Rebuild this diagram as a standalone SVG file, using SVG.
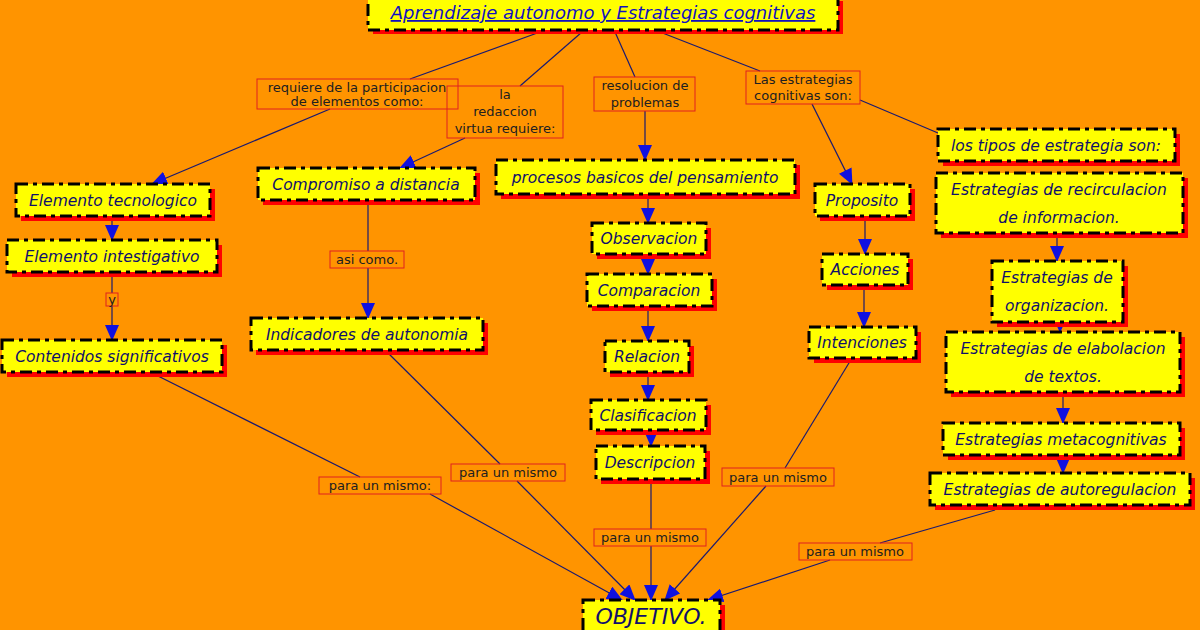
<svg xmlns="http://www.w3.org/2000/svg" width="1200" height="630" viewBox="0 0 1200 630">
<style>
.n rect.s{fill:#ff0000}
.n rect.b{fill:#ffff00;stroke:#000;stroke-width:3;stroke-dasharray:12 5 4 5}
.n text{font-family:"DejaVu Sans",sans-serif;font-style:italic;font-size:15.5px;fill:#10106a;text-anchor:middle}
.l rect{fill:none;stroke:#e02020;stroke-width:1}
.l text{font-family:"DejaVu Sans",sans-serif;font-size:13px;fill:#202020;text-anchor:middle}
#c line{stroke:#1a1a70;stroke-width:1.2}
#c line.a{marker-end:url(#ar)}
</style>
<defs>
<marker id="ar" markerUnits="userSpaceOnUse" markerWidth="16" markerHeight="14" refX="15" refY="7" orient="auto">
<path d="M0,0 L16,7 L0,14 Z" fill="#1010e0"/>
</marker>
</defs>
<rect width="1200" height="630" fill="#ff9400"/>
<g id="c">
<line x1="540" y1="32" x2="410" y2="79"/>
<line class="a" x1="330" y1="109" x2="152" y2="184"/>
<line x1="582" y1="32" x2="520" y2="86"/>
<line class="a" x1="465" y1="138" x2="400" y2="168"/>
<line x1="615" y1="32" x2="635" y2="77"/>
<line class="a" x1="645" y1="111" x2="645" y2="160"/>
<line x1="660" y1="32" x2="760" y2="71"/>
<line x1="860" y1="100" x2="938" y2="133"/>
<line class="a" x1="812" y1="104" x2="852" y2="184"/>
<line class="a" x1="112" y1="216" x2="112" y2="240"/>
<line x1="112" y1="272" x2="112" y2="293"/>
<line class="a" x1="112" y1="306" x2="112" y2="340"/>
<line x1="368" y1="200" x2="368" y2="251"/>
<line class="a" x1="368" y1="268" x2="368" y2="318"/>
<line class="a" x1="648" y1="194" x2="648" y2="223"/>
<line class="a" x1="648" y1="254" x2="648" y2="274"/>
<line class="a" x1="648" y1="306" x2="648" y2="341"/>
<line class="a" x1="648" y1="372" x2="648" y2="400"/>
<line class="a" x1="651" y1="430" x2="651" y2="446"/>
<line class="a" x1="865" y1="216" x2="865" y2="254"/>
<line class="a" x1="864" y1="285" x2="864" y2="327"/>
<line class="a" x1="1057" y1="233" x2="1057" y2="261"/>
<line class="a" x1="1060" y1="322" x2="1060" y2="332"/>
<line class="a" x1="1063" y1="392" x2="1063" y2="423"/>
<line class="a" x1="1063" y1="455" x2="1063" y2="473"/>
<line x1="150" y1="372" x2="360" y2="477"/>
<line class="a" x1="430" y1="494" x2="622" y2="600"/>
<line x1="385" y1="350" x2="500" y2="464"/>
<line class="a" x1="517" y1="481" x2="635" y2="600"/>
<line x1="651" y1="479" x2="651" y2="529"/>
<line class="a" x1="651" y1="546" x2="651" y2="600"/>
<line x1="852" y1="358" x2="785" y2="468"/>
<line class="a" x1="766" y1="486" x2="665" y2="600"/>
<line x1="995" y1="510" x2="880" y2="543"/>
<line class="a" x1="830" y1="560" x2="708" y2="600"/>
</g>
<g class="l" id="l1"><rect x="257" y="79" width="201" height="30"/><text x="357" y="92">requiere de la participacion</text><text x="357" y="106">de elementos como:</text></g>
<g class="l" id="l2"><rect x="447" y="86" width="116" height="52"/><text x="505" y="99">la</text><text x="505" y="116">redaccion</text><text x="505" y="133">virtua requiere:</text></g>
<g class="l" id="l3"><rect x="594" y="77" width="101" height="34"/><text x="645" y="90">resolucion de</text><text x="645" y="107">problemas</text></g>
<g class="l" id="l4"><rect x="746" y="71" width="114" height="33"/><text x="803" y="84">Las estrategias</text><text x="803" y="100">cognitivas son:</text></g>
<g class="l" id="l5"><rect x="330" y="251" width="74" height="17"/><text x="367" y="264">asi como.</text></g>
<g class="l" id="l6"><rect x="106" y="293" width="12" height="13"/><text x="112" y="304">y</text></g>
<g class="l" id="l7"><rect x="319" y="477" width="122" height="17"/><text x="380" y="490">para un mismo:</text></g>
<g class="l" id="l8"><rect x="451" y="464" width="114" height="17"/><text x="508" y="477">para un mismo</text></g>
<g class="l" id="l9"><rect x="594" y="529" width="112" height="17"/><text x="650" y="542">para un mismo</text></g>
<g class="l" id="l10"><rect x="722" y="468" width="112" height="18"/><text x="778" y="482">para un mismo</text></g>
<g class="l" id="l11"><rect x="799" y="543" width="113" height="17"/><text x="855" y="556">para un mismo</text></g>
<g class="n" id="title"><rect class="s" x="373" y="1" width="470" height="33"/><rect class="b" x="368" y="-4" width="470" height="34"/><text x="603" y="19" style="fill:#1010c0;text-decoration:underline;font-size:18px">Aprendizaje autonomo y Estrategias cognitivas</text></g>
<g class="n" id="n1"><rect class="s" x="21" y="189" width="194" height="32"/><rect class="b" x="16" y="184" width="194" height="32"/><text x="113" y="206">Elemento tecnologico</text></g>
<g class="n" id="n2"><rect class="s" x="12" y="245" width="210" height="32"/><rect class="b" x="7" y="240" width="210" height="32"/><text x="112" y="262">Elemento intestigativo</text></g>
<g class="n" id="n3"><rect class="s" x="7" y="345" width="220" height="32"/><rect class="b" x="2" y="340" width="220" height="32"/><text x="112" y="362">Contenidos significativos</text></g>
<g class="n" id="n4"><rect class="s" x="263" y="173" width="217" height="32"/><rect class="b" x="258" y="168" width="217" height="32"/><text x="366" y="190">Compromiso a distancia</text></g>
<g class="n" id="n5"><rect class="s" x="256" y="323" width="232" height="32"/><rect class="b" x="251" y="318" width="232" height="32"/><text x="367" y="340">Indicadores de autonomia</text></g>
<g class="n" id="n6"><rect class="s" x="501" y="165" width="299" height="34"/><rect class="b" x="496" y="160" width="299" height="34"/><text x="645" y="183">procesos basicos del pensamiento</text></g>
<g class="n" id="n7"><rect class="s" x="597" y="228" width="114" height="31"/><rect class="b" x="592" y="223" width="114" height="31"/><text x="649" y="244">Observacion</text></g>
<g class="n" id="n8"><rect class="s" x="592" y="279" width="125" height="32"/><rect class="b" x="587" y="274" width="125" height="32"/><text x="649" y="296">Comparacion</text></g>
<g class="n" id="n9"><rect class="s" x="610" y="346" width="84" height="31"/><rect class="b" x="605" y="341" width="84" height="31"/><text x="647" y="362">Relacion</text></g>
<g class="n" id="n10"><rect class="s" x="596" y="405" width="115" height="30"/><rect class="b" x="591" y="400" width="115" height="30"/><text x="648" y="421">Clasificacion</text></g>
<g class="n" id="n11"><rect class="s" x="601" y="451" width="109" height="33"/><rect class="b" x="596" y="446" width="109" height="33"/><text x="650" y="468">Descripcion</text></g>
<g class="n" id="n12"><rect class="s" x="588" y="605" width="137" height="30"/><rect class="b" x="583" y="600" width="137" height="34"/><text x="651" y="624" style="font-size:22px">OBJETIVO.</text></g>
<g class="n" id="n13"><rect class="s" x="820" y="189" width="95" height="32"/><rect class="b" x="815" y="184" width="95" height="32"/><text x="862" y="206">Proposito</text></g>
<g class="n" id="n14"><rect class="s" x="827" y="259" width="86" height="31"/><rect class="b" x="822" y="254" width="86" height="31"/><text x="865" y="275">Acciones</text></g>
<g class="n" id="n15"><rect class="s" x="814" y="332" width="107" height="31"/><rect class="b" x="809" y="327" width="107" height="31"/><text x="862" y="348">Intenciones</text></g>
<g class="n" id="n16"><rect class="s" x="943" y="134" width="237" height="32"/><rect class="b" x="938" y="129" width="237" height="32"/><text x="1056" y="151">los tipos de estrategia son:</text></g>
<g class="n" id="n17"><rect class="s" x="941" y="178" width="247" height="60"/><rect class="b" x="936" y="173" width="247" height="60"/><text x="1059" y="195">Estrategias de recirculacion</text><text x="1059" y="223">de informacion.</text></g>
<g class="n" id="n18"><rect class="s" x="997" y="266" width="131" height="61"/><rect class="b" x="992" y="261" width="131" height="61"/><text x="1057" y="283">Estrategias de</text><text x="1057" y="311">organizacion.</text></g>
<g class="n" id="n19"><rect class="s" x="951" y="337" width="234" height="60"/><rect class="b" x="946" y="332" width="234" height="60"/><text x="1063" y="354">Estrategias de elabolacion</text><text x="1063" y="382">de textos.</text></g>
<g class="n" id="n20"><rect class="s" x="948" y="428" width="237" height="32"/><rect class="b" x="943" y="423" width="237" height="32"/><text x="1061" y="445">Estrategias metacognitivas</text></g>
<g class="n" id="n21"><rect class="s" x="935" y="478" width="260" height="32"/><rect class="b" x="930" y="473" width="260" height="32"/><text x="1060" y="495">Estrategias de autoregulacion</text></g>
</svg>
